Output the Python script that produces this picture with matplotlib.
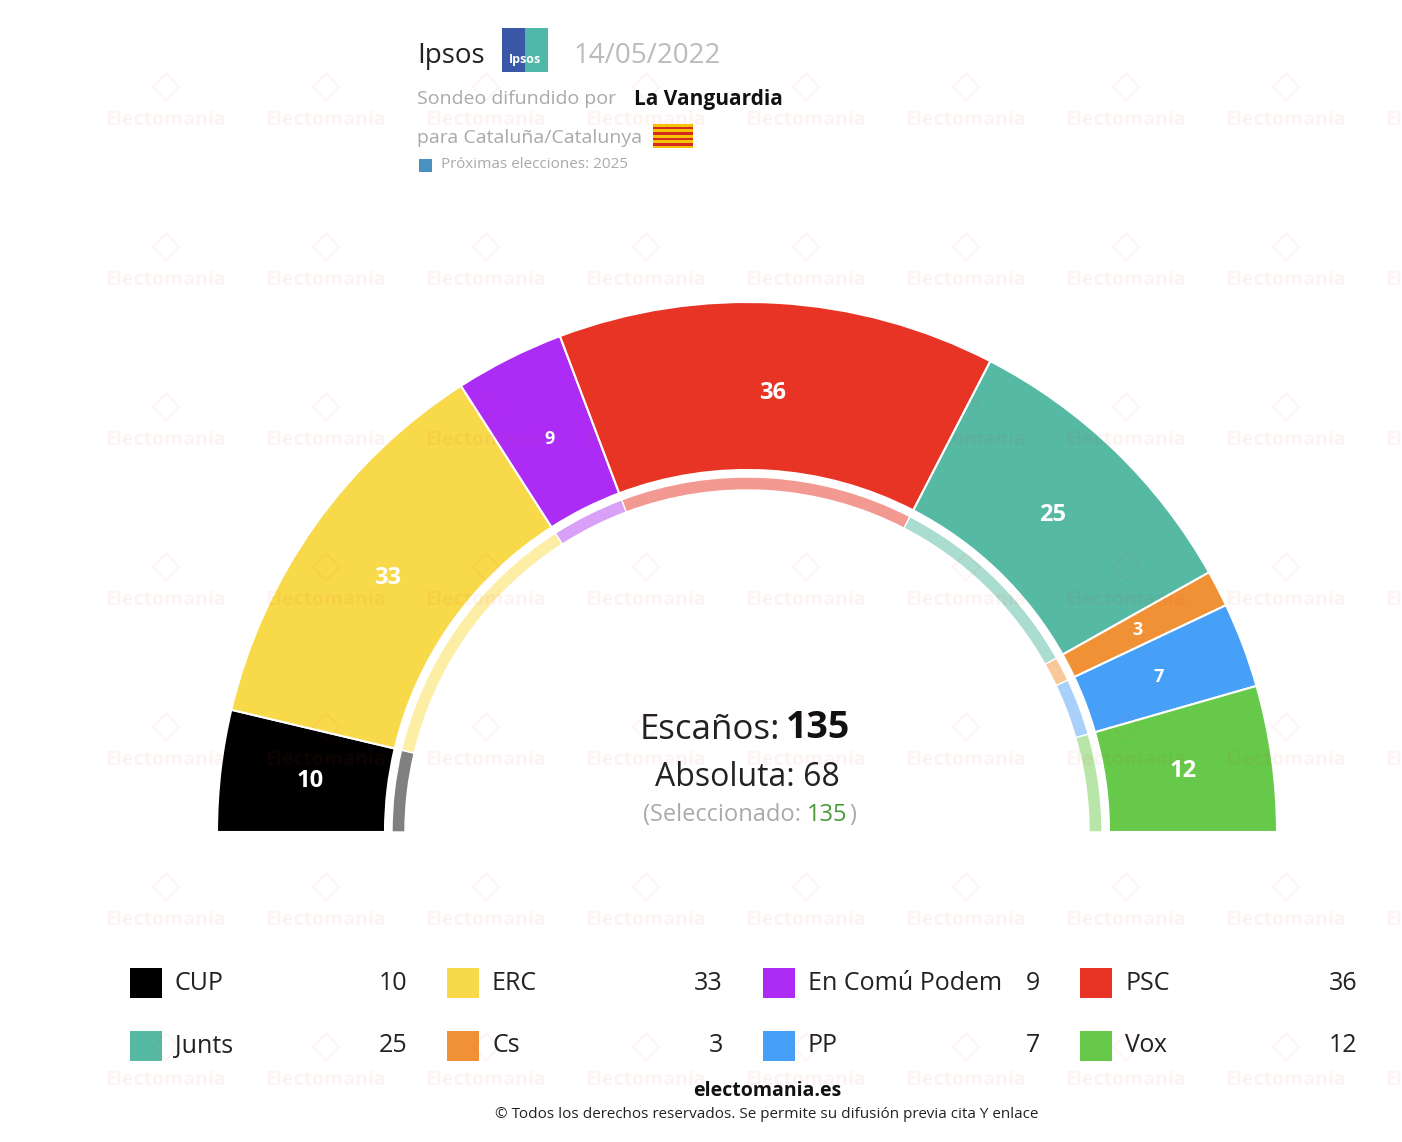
import matplotlib
matplotlib.use("Agg")
import matplotlib.pyplot as plt
from matplotlib.patches import Wedge, Rectangle
import numpy as np

plt.rcParams["font.family"] = "Open Sans"

parties = ["CUP", "ERC", "En Comú Podem", "PSC", "Junts", "Cs", "PP", "Vox"]
seats = [10, 33, 9, 36, 25, 3, 7, 12]
colors = ["#000000", "#f8d94a", "#ac2cf5", "#e83424", "#55b9a3", "#f09136", "#46a0f8", "#66c94a"]
inner_colors = ["#808080", "#fdeea6", "#d9a0f8", "#f29a92", "#aadcd0", "#f8c89a", "#a8d0fb", "#b8e6a8"]
legend_order = ["CUP", "ERC", "En Comú Podem", "PSC", "Junts", "Cs", "PP", "Vox"]

W, H = 1402, 1142
fig = plt.figure(figsize=(W/100, H/100), dpi=100)
ax = fig.add_axes([0, 0, 1, 1])
ax.set_xlim(0, W); ax.set_ylim(0, H); ax.axis("off")
Y = lambda y: H - y

# watermarks
for gx in range(166, 1450, 160):
    for gy in range(120, 1142, 160):
        ax.text(gx, Y(gy), "Electomania", ha="center", va="center", fontsize=14,
                color="#e83424", alpha=0.06, fontweight="bold")
        ax.text(gx, Y(gy-35), "◇", ha="center", va="center", fontsize=28,
                color="#e83424", alpha=0.05, family="DejaVu Sans")

cx, cy = 747, Y(832)
total = sum(seats)
ang = 180.0
for s, c, ic, name in zip(seats, colors, inner_colors, parties):
    a2 = ang - 180.0 * s / total
    ax.add_patch(Wedge((cx, cy), 530, a2, ang, width=168, facecolor=c, edgecolor="white", lw=1.5))
    ax.add_patch(Wedge((cx, cy), 355, a2, ang, width=13, facecolor=ic, edgecolor="white", lw=1))
    mid = np.radians((ang + a2) / 2)
    r = 440
    fs = 17 if s >= 10 else 13
    ax.text(cx + r*np.cos(mid), cy + r*np.sin(mid), str(s), ha="center", va="center",
            color="white", fontsize=fs, fontweight="bold")
    ang = a2

ax.text(780, Y(730), "Escaños:", ha="right", va="center", fontsize=25, color="#222")
ax.text(786, Y(728), "135", ha="left", va="center", fontsize=27, fontweight="bold", color="#111")
ax.text(747, Y(777), "Absoluta: 68", ha="center", va="center", fontsize=23, color="#222")
ax.text(801, Y(815), "(Seleccionado:", ha="right", va="center", fontsize=17, color="#aaa")
ax.text(807, Y(815), "135", ha="left", va="center", fontsize=17, color="#4a9a3a")
ax.text(849, Y(815), ")", ha="left", va="center", fontsize=17, color="#aaa")

# header
ax.text(417, Y(56), "Ipsos", ha="left", va="center", fontsize=20, color="#222")
ax.add_patch(Rectangle((502, Y(72)), 46, 44, facecolor="#3a57a8"))
ax.add_patch(Rectangle((525, Y(72)), 23, 44, facecolor="#4fb8a8"))
ax.text(525, Y(60), "Ipsos", ha="center", va="center", fontsize=9, color="white", fontweight="bold")
ax.text(573, Y(56), "14/05/2022", ha="left", va="center", fontsize=20, color="#bbb")
ax.text(417, Y(99), "Sondeo difundido por", ha="left", va="center", fontsize=14, color="#aaa")
ax.text(634, Y(99), "La Vanguardia", ha="left", va="center", fontsize=15, color="#111", fontweight="bold")
ax.text(417, Y(138), "para Cataluña/Catalunya", ha="left", va="center", fontsize=14, color="#aaa")
for i in range(9):
    ax.add_patch(Rectangle((653, Y(124) - i*2.7 - 2.7), 40, 2.7,
                           facecolor="#f5c400" if i % 2 == 0 else "#d52b1e"))
ax.add_patch(Rectangle((419, Y(172)), 13, 13, facecolor="#4a90c0"))
ax.text(441, Y(165), "Próximas elecciones: 2025", ha="left", va="center", fontsize=11, color="#aaa")

# legend
cols_x = [130, 447, 763, 1080]
vals_x = [407, 723, 1040, 1357]
rows_y = [983, 1046]
for i, p in enumerate(legend_order):
    r, c = divmod(i, 4)
    idx = parties.index(p)
    y = Y(rows_y[r])
    ax.add_patch(Rectangle((cols_x[c], y-15), 32, 30, facecolor=colors[idx]))
    ax.text(cols_x[c] + 45, y, p, ha="left", va="center", fontsize=18, color="#222")
    ax.text(vals_x[c], y, str(seats[idx]), ha="right", va="center", fontsize=18, color="#222")

ax.text(767, Y(1091), "electomania.es", ha="center", va="center", fontsize=14, fontweight="bold", color="#111")
ax.text(767, Y(1115), "© Todos los derechos reservados. Se permite su difusión previa cita Y enlace",
        ha="center", va="center", fontsize=11, color="#222")

fig.savefig("out.png", dpi=100)
